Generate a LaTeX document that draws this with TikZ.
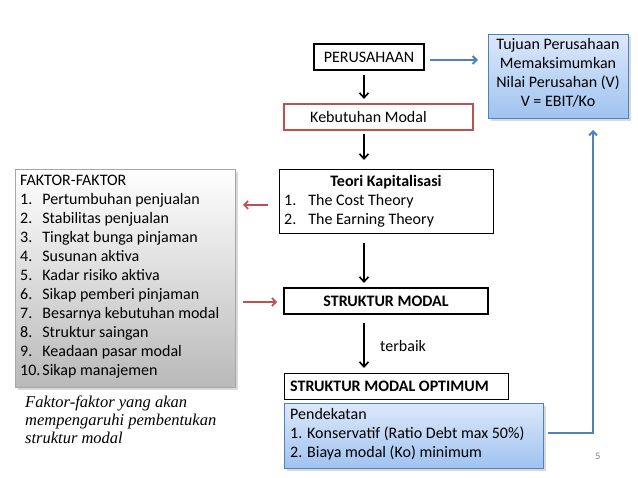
\documentclass[tikz,border=0pt]{standalone}
\usepackage{fontspec}
\setmainfont{Carlito}
\newfontfamily\serifit{Liberation Serif}
\usetikzlibrary{arrows.meta,shadows}
\begin{document}
\begin{tikzpicture}[x=1pt,y=-1pt,font=\fontsize{16}{19}\selectfont,
 box/.style={draw=black,line width=1.2pt,inner sep=0pt},
 blk/.style={-{Straight Barb[length=5pt,width=9pt]},line width=1.6pt},
 redar/.style={-{Straight Barb[length=4pt,width=8pt]},line width=1.6pt,draw={rgb,255:red,192;green,80;blue,77}},
 bluear/.style={-{Straight Barb[length=4pt,width=8pt]},line width=2pt,draw={rgb,255:red,79;green,129;blue,189}},
 bluebox/.style={draw={rgb,255:red,79;green,129;blue,189},top color={rgb,255:red,220;green,232;blue,250},bottom color={rgb,255:red,160;green,195;blue,240},drop shadow={opacity=0.3}}]
\useasboundingbox (0,0) rectangle (638,478);
\node[box,minimum width=110pt,minimum height=26pt] (per) at (369,57) {PERUSAHAAN};
\node[draw={rgb,255:red,192;green,80;blue,77},line width=1.2pt,minimum width=189pt,minimum height=26pt] (keb) at (378.5,117) {\hspace*{-20pt}Kebutuhan Modal};
\node[box,minimum width=214pt,minimum height=64pt,anchor=north west] (teo) at (279,169) {};
\node[anchor=north,inner sep=0pt,font=\fontsize{16}{19}\selectfont\bfseries] (teot) at (386,175) {Teori Kapitalisasi};
\node[anchor=north west,align=left,inner sep=0pt] (teol) at (284,194) {1.\hspace{12pt}The Cost Theory\\2.\hspace{12pt}The Earning Theory};
\node[box,minimum width=204pt,minimum height=26pt,font=\fontsize{16}{19}\selectfont\bfseries] (sm) at (386,301) {STRUKTUR MODAL};
\node[box,minimum width=224pt,minimum height=26pt,anchor=north west] (smo) at (284,373) {};
\node[anchor=west,inner sep=0pt,font=\fontsize{16}{19}\selectfont\bfseries] (smot) at (290,386) {STRUKTUR MODAL OPTIMUM};
\node[bluebox,minimum width=259pt,minimum height=65pt,anchor=north west] (pen) at (284,403) {};
\node[anchor=north west,align=left,inner sep=0pt] (pent) at (290,408) {Pendekatan\\1. Konservatif (Ratio Debt max 50\%)\\2. Biaya modal (Ko) minimum};
\node[bluebox,minimum width=140pt,minimum height=84pt,anchor=north west] (tuj) at (488,34) {};
\node[align=center,inner sep=0pt,anchor=north] (tujt) at (558,38) {Tujuan Perusahaan\\Memaksimumkan\\Nilai Perusahan (V)\\V = EBIT/Ko};
\node[draw=gray!70,top color=white,bottom color=gray!55,drop shadow={opacity=0.3},minimum width=220pt,minimum height=218pt,anchor=north west] (fak) at (15,169) {};
\node[anchor=north west,align=left,inner sep=0pt] (fakt) at (20,175) {FAKTOR-FAKTOR\\1.\hspace{10pt}Pertumbuhan penjualan\\2.\hspace{10pt}Stabilitas penjualan\\3.\hspace{10pt}Tingkat bunga pinjaman\\4.\hspace{10pt}Susunan aktiva\\5.\hspace{10pt}Kadar risiko aktiva\\6.\hspace{10pt}Sikap pemberi pinjaman\\7.\hspace{10pt}Besarnya kebutuhan modal\\8.\hspace{10pt}Struktur saingan\\9.\hspace{10pt}Keadaan pasar modal\\10.\hspace{2pt}Sikap manajemen};
\node[anchor=north west,align=left,inner sep=0pt,font=\serifit\itshape\fontsize{16.5}{18}\selectfont] (ital) at (25,396) {Faktor-faktor yang akan\\mempengaruhi pembentukan\\struktur modal};
\node[anchor=west,inner sep=0pt] (terb) at (380,346) {terbaik};
\node[text=gray,font=\fontsize{10}{11}\selectfont] (pg) at (598,456) {5};
\coordinate (a1) at (364,75); \coordinate (a2) at (364,99);
\coordinate (b1) at (364,134); \coordinate (b2) at (364,160);
\coordinate (c1) at (364,243); \coordinate (c2) at (364,283);
\coordinate (d1) at (364,323); \coordinate (d2) at (364,368);
\draw[blk] (a1)--(a2); \draw[blk] (b1)--(b2); \draw[blk] (c1)--(c2); \draw[blk] (d1)--(d2);
\coordinate (r1) at (268,205); \coordinate (r2) at (243,205);
\coordinate (r3) at (243,302); \coordinate (r4) at (277,302);
\draw[redar] (r1)--(r2); \draw[redar] (r3)--(r4);
\coordinate (u1) at (430,60); \coordinate (u2) at (478,60);
\draw[bluear] (u1)--(u2);
\coordinate (e1) at (548,433); \coordinate (e2) at (593,130);
\draw[bluear] (e1)-|(e2);
\end{tikzpicture}
\end{document}
